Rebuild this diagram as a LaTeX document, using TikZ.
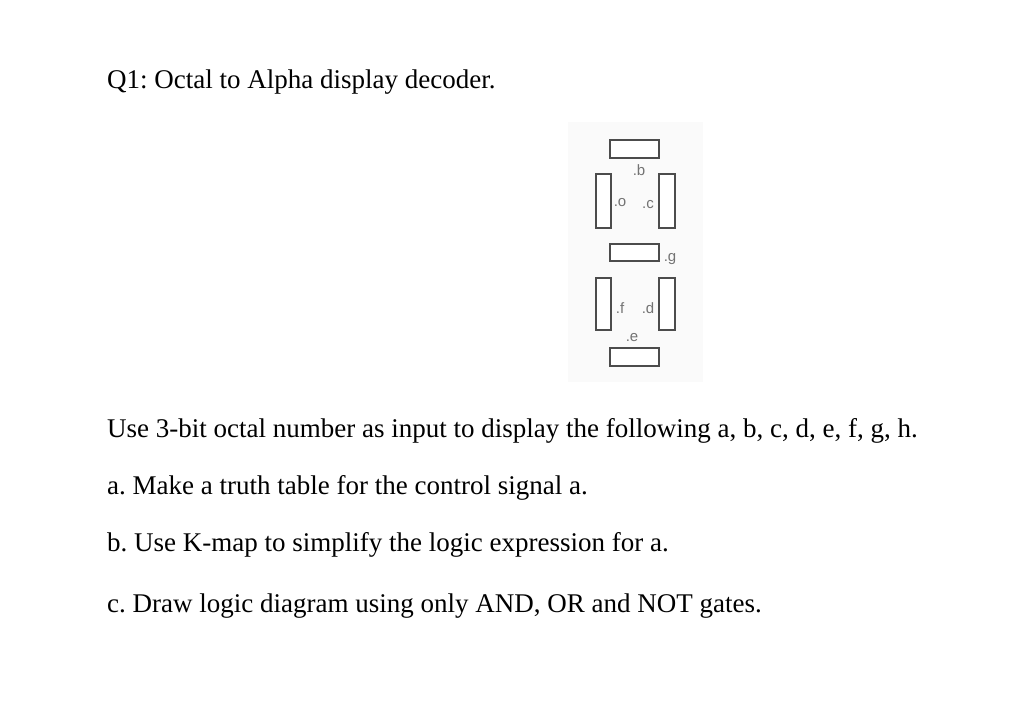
\documentclass[tikz,border=0pt]{standalone}
\usepackage{fontspec}
\setmainfont{Liberation Serif}
\newfontfamily\segfont{Liberation Sans}
\begin{document}
\frenchspacing
\begin{tikzpicture}[x=1pt,y=-1pt,
  seg/.style={draw=black!70,line width=1.8pt,fill=white},
  txt/.style={anchor=base west,inner sep=0pt,font=\fontsize{27}{32}\selectfont},
  lab/.style={inner sep=0pt,text=black!55,font=\segfont\fontsize{15}{17}\selectfont}]
\useasboundingbox (0,0) rectangle (1024,704);
\fill[black!2] (568,122) rectangle (703,382);
\node[txt] (t1) at (107,88) {Q1: Octal to Alpha display decoder.};
\draw[seg] (610,140) rectangle (659,158);
\draw[seg] (596,174) rectangle (611,228);
\draw[seg] (659,174) rectangle (675,228);
\draw[seg] (610,244) rectangle (659,261);
\draw[seg] (596,278) rectangle (611,330);
\draw[seg] (659,278) rectangle (675,330);
\draw[seg] (610,348) rectangle (659,366);
\node[lab] (lb) at (639,170) {.b};
\node[lab] (la) at (620,203) {.o};
\node[lab] (lc) at (648,205) {.c};
\node[lab] (lg) at (670,259) {.g};
\node[lab] (lf) at (620,308) {.f};
\node[lab] (ld) at (648,308) {.d};
\node[lab] (le) at (632,338) {.e};
\node[txt] (t2) at (107,437) {Use 3-bit octal number as input to display the following a, b, c, d, e, f, g, h.};
\node[txt] (t3) at (107,494) {a. Make a truth table for the control signal a.};
\node[txt] (t4) at (107,551) {b. Use K-map to simplify the logic expression for a.};
\node[txt] (t5) at (107,612) {c. Draw logic diagram using only AND, OR and NOT gates.};
\end{tikzpicture}
\end{document}
